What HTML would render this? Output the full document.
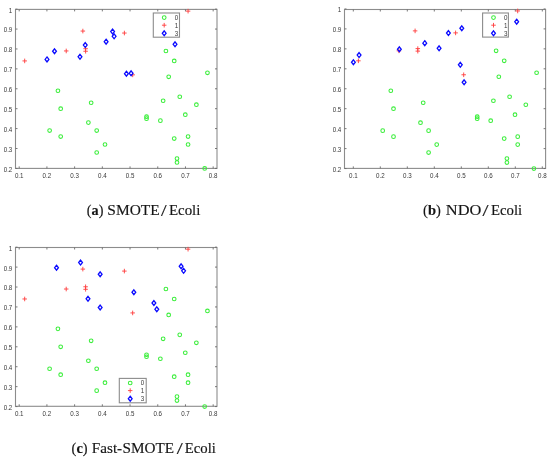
<!DOCTYPE html>
<html><head><meta charset="utf-8"><title>SMOTE / NDO / Fast-SMOTE on Ecoli</title>
<style>
html,body{margin:0;padding:0;background:#fff;}
body{width:550px;height:458px;overflow:hidden;position:relative;}
svg{position:absolute;left:0;top:0;filter:blur(0.3px);}
.tk{font-family:"Liberation Sans",Arial,sans-serif;font-size:6.9px;fill:#383838;}
.cap{font-family:"Liberation Serif","Times New Roman",serif;font-size:14.5px;fill:#151515;stroke:#151515;stroke-width:0.15px;}
</style></head>
<body>
<svg width="550" height="458" viewBox="0 0 550 458">
<rect x="15.50" y="9.40" width="201.50" height="159.00" fill="none" stroke="#8c8c8c" stroke-width="1.1"/>
<path d="M19.20 168.40v-2M19.20 9.40v2M46.91 168.40v-2M46.91 9.40v2M74.62 168.40v-2M74.62 9.40v2M102.33 168.40v-2M102.33 9.40v2M130.04 168.40v-2M130.04 9.40v2M157.75 168.40v-2M157.75 9.40v2M185.46 168.40v-2M185.46 9.40v2M213.17 168.40v-2M213.17 9.40v2M15.50 168.41h2M217.00 168.41h-2M15.50 148.50h2M217.00 148.50h-2M15.50 128.59h2M217.00 128.59h-2M15.50 108.69h2M217.00 108.69h-2M15.50 88.78h2M217.00 88.78h-2M15.50 68.87h2M217.00 68.87h-2M15.50 48.96h2M217.00 48.96h-2M15.50 29.06h2M217.00 29.06h-2M15.50 9.15h2M217.00 9.15h-2" stroke="#6a6a6a" stroke-width="0.9" fill="none"/>
<text transform="translate(19.20 178.00) scale(0.9 1)" text-anchor="middle" class="tk">0.1</text>
<text transform="translate(46.91 178.00) scale(0.9 1)" text-anchor="middle" class="tk">0.2</text>
<text transform="translate(74.62 178.00) scale(0.9 1)" text-anchor="middle" class="tk">0.3</text>
<text transform="translate(102.33 178.00) scale(0.9 1)" text-anchor="middle" class="tk">0.4</text>
<text transform="translate(130.04 178.00) scale(0.9 1)" text-anchor="middle" class="tk">0.5</text>
<text transform="translate(157.75 178.00) scale(0.9 1)" text-anchor="middle" class="tk">0.6</text>
<text transform="translate(185.46 178.00) scale(0.9 1)" text-anchor="middle" class="tk">0.7</text>
<text transform="translate(213.17 178.00) scale(0.9 1)" text-anchor="middle" class="tk">0.8</text>
<text transform="translate(12.30 171.81) scale(0.9 1)" text-anchor="end" class="tk">0.2</text>
<text transform="translate(12.30 151.90) scale(0.9 1)" text-anchor="end" class="tk">0.3</text>
<text transform="translate(12.30 131.99) scale(0.9 1)" text-anchor="end" class="tk">0.4</text>
<text transform="translate(12.30 112.09) scale(0.9 1)" text-anchor="end" class="tk">0.5</text>
<text transform="translate(12.30 92.18) scale(0.9 1)" text-anchor="end" class="tk">0.6</text>
<text transform="translate(12.30 72.27) scale(0.9 1)" text-anchor="end" class="tk">0.7</text>
<text transform="translate(12.30 52.36) scale(0.9 1)" text-anchor="end" class="tk">0.8</text>
<text transform="translate(12.30 32.46) scale(0.9 1)" text-anchor="end" class="tk">0.9</text>
<text transform="translate(12.30 12.55) scale(0.9 1)" text-anchor="end" class="tk">1</text>
<ellipse cx="165.92" cy="50.95" rx="1.85" ry="1.8" fill="none" stroke="#3aee3a" stroke-width="1.05"/>
<ellipse cx="174.22" cy="60.91" rx="1.85" ry="1.8" fill="none" stroke="#3aee3a" stroke-width="1.05"/>
<ellipse cx="207.45" cy="72.85" rx="1.85" ry="1.8" fill="none" stroke="#3aee3a" stroke-width="1.05"/>
<ellipse cx="168.69" cy="76.83" rx="1.85" ry="1.8" fill="none" stroke="#3aee3a" stroke-width="1.05"/>
<ellipse cx="57.93" cy="90.77" rx="1.85" ry="1.8" fill="none" stroke="#3aee3a" stroke-width="1.05"/>
<ellipse cx="91.15" cy="102.71" rx="1.85" ry="1.8" fill="none" stroke="#3aee3a" stroke-width="1.05"/>
<ellipse cx="60.69" cy="108.69" rx="1.85" ry="1.8" fill="none" stroke="#3aee3a" stroke-width="1.05"/>
<ellipse cx="88.38" cy="122.62" rx="1.85" ry="1.8" fill="none" stroke="#3aee3a" stroke-width="1.05"/>
<ellipse cx="49.62" cy="130.58" rx="1.85" ry="1.8" fill="none" stroke="#3aee3a" stroke-width="1.05"/>
<ellipse cx="96.69" cy="130.58" rx="1.85" ry="1.8" fill="none" stroke="#3aee3a" stroke-width="1.05"/>
<ellipse cx="60.69" cy="136.55" rx="1.85" ry="1.8" fill="none" stroke="#3aee3a" stroke-width="1.05"/>
<ellipse cx="105.00" cy="144.52" rx="1.85" ry="1.8" fill="none" stroke="#3aee3a" stroke-width="1.05"/>
<ellipse cx="96.69" cy="152.48" rx="1.85" ry="1.8" fill="none" stroke="#3aee3a" stroke-width="1.05"/>
<ellipse cx="179.76" cy="96.74" rx="1.85" ry="1.8" fill="none" stroke="#3aee3a" stroke-width="1.05"/>
<ellipse cx="163.15" cy="100.72" rx="1.85" ry="1.8" fill="none" stroke="#3aee3a" stroke-width="1.05"/>
<ellipse cx="196.38" cy="104.70" rx="1.85" ry="1.8" fill="none" stroke="#3aee3a" stroke-width="1.05"/>
<ellipse cx="185.30" cy="114.66" rx="1.85" ry="1.8" fill="none" stroke="#3aee3a" stroke-width="1.05"/>
<ellipse cx="146.53" cy="116.65" rx="1.85" ry="1.8" fill="none" stroke="#3aee3a" stroke-width="1.05"/>
<ellipse cx="146.53" cy="118.64" rx="1.85" ry="1.8" fill="none" stroke="#3aee3a" stroke-width="1.05"/>
<ellipse cx="160.38" cy="120.63" rx="1.85" ry="1.8" fill="none" stroke="#3aee3a" stroke-width="1.05"/>
<ellipse cx="188.07" cy="136.55" rx="1.85" ry="1.8" fill="none" stroke="#3aee3a" stroke-width="1.05"/>
<ellipse cx="174.22" cy="138.55" rx="1.85" ry="1.8" fill="none" stroke="#3aee3a" stroke-width="1.05"/>
<ellipse cx="188.07" cy="144.52" rx="1.85" ry="1.8" fill="none" stroke="#3aee3a" stroke-width="1.05"/>
<ellipse cx="176.99" cy="158.45" rx="1.85" ry="1.8" fill="none" stroke="#3aee3a" stroke-width="1.05"/>
<ellipse cx="176.99" cy="162.43" rx="1.85" ry="1.8" fill="none" stroke="#3aee3a" stroke-width="1.05"/>
<ellipse cx="204.68" cy="168.41" rx="1.85" ry="1.8" fill="none" stroke="#3aee3a" stroke-width="1.05"/>
<path d="M22.45 60.91H26.95M24.70 58.61V63.21" stroke="#ff3b3b" stroke-width="0.9" fill="none"/>
<path d="M63.98 50.95H68.48M66.23 48.65V53.25" stroke="#ff3b3b" stroke-width="0.9" fill="none"/>
<path d="M80.60 31.05H85.10M82.85 28.75V33.35" stroke="#ff3b3b" stroke-width="0.9" fill="none"/>
<path d="M83.37 48.71H87.87M85.62 46.41V51.01" stroke="#ff3b3b" stroke-width="0.9" fill="none"/>
<path d="M83.37 51.25H87.87M85.62 48.95V53.55" stroke="#ff3b3b" stroke-width="0.9" fill="none"/>
<path d="M122.13 33.04H126.63M124.38 30.74V35.34" stroke="#ff3b3b" stroke-width="0.9" fill="none"/>
<path d="M130.44 74.84H134.94M132.69 72.54V77.14" stroke="#ff3b3b" stroke-width="0.9" fill="none"/>
<path d="M185.82 11.14H190.32M188.07 8.84V13.44" stroke="#ff3b3b" stroke-width="0.9" fill="none"/>
<path d="M47.00 56.94L48.90 59.39L47.00 61.84L45.10 59.39Z" stroke="#0a0aff" stroke-width="1.3" fill="none"/>
<path d="M54.51 48.79L56.41 51.24L54.51 53.69L52.61 51.24Z" stroke="#0a0aff" stroke-width="1.3" fill="none"/>
<path d="M79.99 54.35L81.89 56.80L79.99 59.25L78.09 56.80Z" stroke="#0a0aff" stroke-width="1.3" fill="none"/>
<path d="M85.24 42.63L87.14 45.08L85.24 47.53L83.34 45.08Z" stroke="#0a0aff" stroke-width="1.3" fill="none"/>
<path d="M106.10 39.25L108.00 41.70L106.10 44.15L104.20 41.70Z" stroke="#0a0aff" stroke-width="1.3" fill="none"/>
<path d="M112.59 29.11L114.49 31.56L112.59 34.01L110.69 31.56Z" stroke="#0a0aff" stroke-width="1.3" fill="none"/>
<path d="M114.11 33.88L116.01 36.33L114.11 38.78L112.21 36.33Z" stroke="#0a0aff" stroke-width="1.3" fill="none"/>
<path d="M126.40 71.24L128.30 73.69L126.40 76.14L124.50 73.69Z" stroke="#0a0aff" stroke-width="1.3" fill="none"/>
<path d="M131.10 70.85L133.00 73.30L131.10 75.75L129.20 73.30Z" stroke="#0a0aff" stroke-width="1.3" fill="none"/>
<path d="M175.03 41.83L176.93 44.28L175.03 46.73L173.13 44.28Z" stroke="#0a0aff" stroke-width="1.3" fill="none"/>
<rect x="153.30" y="13.00" width="26.20" height="24.20" fill="#fff" stroke="#8c8c8c" stroke-width="1.1"/>
<ellipse cx="164.20" cy="17.60" rx="1.85" ry="1.8" fill="none" stroke="#3aee3a" stroke-width="1.05"/>
<path d="M161.95 25.20H166.45M164.20 22.90V27.50" stroke="#ff3b3b" stroke-width="0.9" fill="none"/>
<path d="M164.20 30.85L166.10 33.30L164.20 35.75L162.30 33.30Z" stroke="#0a0aff" stroke-width="1.3" fill="none"/>
<text transform="translate(176.40 20.00) scale(0.9 1)" text-anchor="middle" class="tk">0</text>
<text transform="translate(176.40 27.60) scale(0.9 1)" text-anchor="middle" class="tk">1</text>
<text transform="translate(176.40 35.70) scale(0.9 1)" text-anchor="middle" class="tk">3</text>
<rect x="344.50" y="9.50" width="201.10" height="158.90" fill="none" stroke="#8c8c8c" stroke-width="1.1"/>
<path d="M353.30 168.40v-2M353.30 9.50v2M380.30 168.40v-2M380.30 9.50v2M407.30 168.40v-2M407.30 9.50v2M434.30 168.40v-2M434.30 9.50v2M461.30 168.40v-2M461.30 9.50v2M488.30 168.40v-2M488.30 9.50v2M515.30 168.40v-2M515.30 9.50v2M542.30 168.40v-2M542.30 9.50v2M344.50 168.55h2M545.60 168.55h-2M344.50 148.60h2M545.60 148.60h-2M344.50 128.65h2M545.60 128.65h-2M344.50 108.70h2M545.60 108.70h-2M344.50 88.75h2M545.60 88.75h-2M344.50 68.80h2M545.60 68.80h-2M344.50 48.85h2M545.60 48.85h-2M344.50 28.90h2M545.60 28.90h-2M344.50 8.95h2M545.60 8.95h-2" stroke="#6a6a6a" stroke-width="0.9" fill="none"/>
<text transform="translate(353.30 178.00) scale(0.9 1)" text-anchor="middle" class="tk">0.1</text>
<text transform="translate(380.30 178.00) scale(0.9 1)" text-anchor="middle" class="tk">0.2</text>
<text transform="translate(407.30 178.00) scale(0.9 1)" text-anchor="middle" class="tk">0.3</text>
<text transform="translate(434.30 178.00) scale(0.9 1)" text-anchor="middle" class="tk">0.4</text>
<text transform="translate(461.30 178.00) scale(0.9 1)" text-anchor="middle" class="tk">0.5</text>
<text transform="translate(488.30 178.00) scale(0.9 1)" text-anchor="middle" class="tk">0.6</text>
<text transform="translate(515.30 178.00) scale(0.9 1)" text-anchor="middle" class="tk">0.7</text>
<text transform="translate(542.30 178.00) scale(0.9 1)" text-anchor="middle" class="tk">0.8</text>
<text transform="translate(341.30 171.95) scale(0.9 1)" text-anchor="end" class="tk">0.2</text>
<text transform="translate(341.30 152.00) scale(0.9 1)" text-anchor="end" class="tk">0.3</text>
<text transform="translate(341.30 132.05) scale(0.9 1)" text-anchor="end" class="tk">0.4</text>
<text transform="translate(341.30 112.10) scale(0.9 1)" text-anchor="end" class="tk">0.5</text>
<text transform="translate(341.30 92.15) scale(0.9 1)" text-anchor="end" class="tk">0.6</text>
<text transform="translate(341.30 72.20) scale(0.9 1)" text-anchor="end" class="tk">0.7</text>
<text transform="translate(341.30 52.25) scale(0.9 1)" text-anchor="end" class="tk">0.8</text>
<text transform="translate(341.30 32.30) scale(0.9 1)" text-anchor="end" class="tk">0.9</text>
<text transform="translate(341.30 12.35) scale(0.9 1)" text-anchor="end" class="tk">1</text>
<ellipse cx="496.10" cy="50.84" rx="1.85" ry="1.8" fill="none" stroke="#3aee3a" stroke-width="1.05"/>
<ellipse cx="504.20" cy="60.82" rx="1.85" ry="1.8" fill="none" stroke="#3aee3a" stroke-width="1.05"/>
<ellipse cx="536.60" cy="72.79" rx="1.85" ry="1.8" fill="none" stroke="#3aee3a" stroke-width="1.05"/>
<ellipse cx="498.80" cy="76.78" rx="1.85" ry="1.8" fill="none" stroke="#3aee3a" stroke-width="1.05"/>
<ellipse cx="390.80" cy="90.75" rx="1.85" ry="1.8" fill="none" stroke="#3aee3a" stroke-width="1.05"/>
<ellipse cx="423.20" cy="102.72" rx="1.85" ry="1.8" fill="none" stroke="#3aee3a" stroke-width="1.05"/>
<ellipse cx="393.50" cy="108.70" rx="1.85" ry="1.8" fill="none" stroke="#3aee3a" stroke-width="1.05"/>
<ellipse cx="420.50" cy="122.67" rx="1.85" ry="1.8" fill="none" stroke="#3aee3a" stroke-width="1.05"/>
<ellipse cx="382.70" cy="130.64" rx="1.85" ry="1.8" fill="none" stroke="#3aee3a" stroke-width="1.05"/>
<ellipse cx="428.60" cy="130.64" rx="1.85" ry="1.8" fill="none" stroke="#3aee3a" stroke-width="1.05"/>
<ellipse cx="393.50" cy="136.63" rx="1.85" ry="1.8" fill="none" stroke="#3aee3a" stroke-width="1.05"/>
<ellipse cx="436.70" cy="144.61" rx="1.85" ry="1.8" fill="none" stroke="#3aee3a" stroke-width="1.05"/>
<ellipse cx="428.60" cy="152.59" rx="1.85" ry="1.8" fill="none" stroke="#3aee3a" stroke-width="1.05"/>
<ellipse cx="509.60" cy="96.73" rx="1.85" ry="1.8" fill="none" stroke="#3aee3a" stroke-width="1.05"/>
<ellipse cx="493.40" cy="100.72" rx="1.85" ry="1.8" fill="none" stroke="#3aee3a" stroke-width="1.05"/>
<ellipse cx="525.80" cy="104.71" rx="1.85" ry="1.8" fill="none" stroke="#3aee3a" stroke-width="1.05"/>
<ellipse cx="515.00" cy="114.69" rx="1.85" ry="1.8" fill="none" stroke="#3aee3a" stroke-width="1.05"/>
<ellipse cx="477.20" cy="116.68" rx="1.85" ry="1.8" fill="none" stroke="#3aee3a" stroke-width="1.05"/>
<ellipse cx="477.20" cy="118.68" rx="1.85" ry="1.8" fill="none" stroke="#3aee3a" stroke-width="1.05"/>
<ellipse cx="490.70" cy="120.67" rx="1.85" ry="1.8" fill="none" stroke="#3aee3a" stroke-width="1.05"/>
<ellipse cx="517.70" cy="136.63" rx="1.85" ry="1.8" fill="none" stroke="#3aee3a" stroke-width="1.05"/>
<ellipse cx="504.20" cy="138.62" rx="1.85" ry="1.8" fill="none" stroke="#3aee3a" stroke-width="1.05"/>
<ellipse cx="517.70" cy="144.61" rx="1.85" ry="1.8" fill="none" stroke="#3aee3a" stroke-width="1.05"/>
<ellipse cx="506.90" cy="158.57" rx="1.85" ry="1.8" fill="none" stroke="#3aee3a" stroke-width="1.05"/>
<ellipse cx="506.90" cy="162.56" rx="1.85" ry="1.8" fill="none" stroke="#3aee3a" stroke-width="1.05"/>
<ellipse cx="533.90" cy="168.55" rx="1.85" ry="1.8" fill="none" stroke="#3aee3a" stroke-width="1.05"/>
<path d="M356.15 60.82H360.65M358.40 58.52V63.12" stroke="#ff3b3b" stroke-width="0.9" fill="none"/>
<path d="M396.65 50.84H401.15M398.90 48.55V53.14" stroke="#ff3b3b" stroke-width="0.9" fill="none"/>
<path d="M412.85 30.89H417.35M415.10 28.59V33.19" stroke="#ff3b3b" stroke-width="0.9" fill="none"/>
<path d="M415.55 48.60H420.05M417.80 46.30V50.90" stroke="#ff3b3b" stroke-width="0.9" fill="none"/>
<path d="M415.55 51.14H420.05M417.80 48.84V53.44" stroke="#ff3b3b" stroke-width="0.9" fill="none"/>
<path d="M453.35 32.89H457.85M455.60 30.59V35.19" stroke="#ff3b3b" stroke-width="0.9" fill="none"/>
<path d="M461.45 74.78H465.95M463.70 72.48V77.08" stroke="#ff3b3b" stroke-width="0.9" fill="none"/>
<path d="M515.45 10.95H519.95M517.70 8.64V13.25" stroke="#ff3b3b" stroke-width="0.9" fill="none"/>
<path d="M353.40 59.78L355.30 62.23L353.40 64.68L351.50 62.23Z" stroke="#0a0aff" stroke-width="1.3" fill="none"/>
<path d="M359.08 52.63L360.98 55.08L359.08 57.53L357.18 55.08Z" stroke="#0a0aff" stroke-width="1.3" fill="none"/>
<path d="M399.35 46.87L401.25 49.32L399.35 51.77L397.45 49.32Z" stroke="#0a0aff" stroke-width="1.3" fill="none"/>
<path d="M424.76 40.71L426.66 43.16L424.76 45.61L422.86 43.16Z" stroke="#0a0aff" stroke-width="1.3" fill="none"/>
<path d="M439.09 45.87L440.99 48.32L439.09 50.77L437.19 48.32Z" stroke="#0a0aff" stroke-width="1.3" fill="none"/>
<path d="M448.41 30.58L450.31 33.03L448.41 35.48L446.51 33.03Z" stroke="#0a0aff" stroke-width="1.3" fill="none"/>
<path d="M461.79 25.82L463.69 28.27L461.79 30.72L459.89 28.27Z" stroke="#0a0aff" stroke-width="1.3" fill="none"/>
<path d="M516.66 19.26L518.56 21.71L516.66 24.16L514.76 21.71Z" stroke="#0a0aff" stroke-width="1.3" fill="none"/>
<path d="M460.30 62.36L462.20 64.81L460.30 67.26L458.40 64.81Z" stroke="#0a0aff" stroke-width="1.3" fill="none"/>
<path d="M464.09 79.83L465.99 82.28L464.09 84.73L462.19 82.28Z" stroke="#0a0aff" stroke-width="1.3" fill="none"/>
<rect x="482.60" y="13.00" width="25.80" height="24.10" fill="#fff" stroke="#8c8c8c" stroke-width="1.1"/>
<ellipse cx="493.50" cy="17.60" rx="1.85" ry="1.8" fill="none" stroke="#3aee3a" stroke-width="1.05"/>
<path d="M491.25 25.20H495.75M493.50 22.90V27.50" stroke="#ff3b3b" stroke-width="0.9" fill="none"/>
<path d="M493.50 30.85L495.40 33.30L493.50 35.75L491.60 33.30Z" stroke="#0a0aff" stroke-width="1.3" fill="none"/>
<text transform="translate(505.70 20.00) scale(0.9 1)" text-anchor="middle" class="tk">0</text>
<text transform="translate(505.70 27.60) scale(0.9 1)" text-anchor="middle" class="tk">1</text>
<text transform="translate(505.70 35.70) scale(0.9 1)" text-anchor="middle" class="tk">3</text>
<rect x="15.50" y="247.50" width="201.50" height="158.80" fill="none" stroke="#8c8c8c" stroke-width="1.1"/>
<path d="M19.20 406.30v-2M19.20 247.50v2M46.91 406.30v-2M46.91 247.50v2M74.62 406.30v-2M74.62 247.50v2M102.33 406.30v-2M102.33 247.50v2M130.04 406.30v-2M130.04 247.50v2M157.75 406.30v-2M157.75 247.50v2M185.46 406.30v-2M185.46 247.50v2M213.17 406.30v-2M213.17 247.50v2M15.50 406.57h2M217.00 406.57h-2M15.50 386.65h2M217.00 386.65h-2M15.50 366.72h2M217.00 366.72h-2M15.50 346.80h2M217.00 346.80h-2M15.50 326.88h2M217.00 326.88h-2M15.50 306.95h2M217.00 306.95h-2M15.50 287.03h2M217.00 287.03h-2M15.50 267.10h2M217.00 267.10h-2M15.50 247.18h2M217.00 247.18h-2" stroke="#6a6a6a" stroke-width="0.9" fill="none"/>
<text transform="translate(19.20 415.90) scale(0.9 1)" text-anchor="middle" class="tk">0.1</text>
<text transform="translate(46.91 415.90) scale(0.9 1)" text-anchor="middle" class="tk">0.2</text>
<text transform="translate(74.62 415.90) scale(0.9 1)" text-anchor="middle" class="tk">0.3</text>
<text transform="translate(102.33 415.90) scale(0.9 1)" text-anchor="middle" class="tk">0.4</text>
<text transform="translate(130.04 415.90) scale(0.9 1)" text-anchor="middle" class="tk">0.5</text>
<text transform="translate(157.75 415.90) scale(0.9 1)" text-anchor="middle" class="tk">0.6</text>
<text transform="translate(185.46 415.90) scale(0.9 1)" text-anchor="middle" class="tk">0.7</text>
<text transform="translate(213.17 415.90) scale(0.9 1)" text-anchor="middle" class="tk">0.8</text>
<text transform="translate(12.30 409.97) scale(0.9 1)" text-anchor="end" class="tk">0.2</text>
<text transform="translate(12.30 390.05) scale(0.9 1)" text-anchor="end" class="tk">0.3</text>
<text transform="translate(12.30 370.12) scale(0.9 1)" text-anchor="end" class="tk">0.4</text>
<text transform="translate(12.30 350.20) scale(0.9 1)" text-anchor="end" class="tk">0.5</text>
<text transform="translate(12.30 330.28) scale(0.9 1)" text-anchor="end" class="tk">0.6</text>
<text transform="translate(12.30 310.35) scale(0.9 1)" text-anchor="end" class="tk">0.7</text>
<text transform="translate(12.30 290.43) scale(0.9 1)" text-anchor="end" class="tk">0.8</text>
<text transform="translate(12.30 270.50) scale(0.9 1)" text-anchor="end" class="tk">0.9</text>
<text transform="translate(12.30 250.58) scale(0.9 1)" text-anchor="end" class="tk">1</text>
<ellipse cx="165.90" cy="289.02" rx="1.85" ry="1.8" fill="none" stroke="#3aee3a" stroke-width="1.05"/>
<ellipse cx="174.20" cy="298.98" rx="1.85" ry="1.8" fill="none" stroke="#3aee3a" stroke-width="1.05"/>
<ellipse cx="207.43" cy="310.94" rx="1.85" ry="1.8" fill="none" stroke="#3aee3a" stroke-width="1.05"/>
<ellipse cx="168.67" cy="314.92" rx="1.85" ry="1.8" fill="none" stroke="#3aee3a" stroke-width="1.05"/>
<ellipse cx="57.91" cy="328.87" rx="1.85" ry="1.8" fill="none" stroke="#3aee3a" stroke-width="1.05"/>
<ellipse cx="91.13" cy="340.82" rx="1.85" ry="1.8" fill="none" stroke="#3aee3a" stroke-width="1.05"/>
<ellipse cx="60.67" cy="346.80" rx="1.85" ry="1.8" fill="none" stroke="#3aee3a" stroke-width="1.05"/>
<ellipse cx="88.36" cy="360.75" rx="1.85" ry="1.8" fill="none" stroke="#3aee3a" stroke-width="1.05"/>
<ellipse cx="49.60" cy="368.72" rx="1.85" ry="1.8" fill="none" stroke="#3aee3a" stroke-width="1.05"/>
<ellipse cx="96.67" cy="368.72" rx="1.85" ry="1.8" fill="none" stroke="#3aee3a" stroke-width="1.05"/>
<ellipse cx="60.67" cy="374.69" rx="1.85" ry="1.8" fill="none" stroke="#3aee3a" stroke-width="1.05"/>
<ellipse cx="104.98" cy="382.66" rx="1.85" ry="1.8" fill="none" stroke="#3aee3a" stroke-width="1.05"/>
<ellipse cx="96.67" cy="390.63" rx="1.85" ry="1.8" fill="none" stroke="#3aee3a" stroke-width="1.05"/>
<ellipse cx="179.74" cy="334.85" rx="1.85" ry="1.8" fill="none" stroke="#3aee3a" stroke-width="1.05"/>
<ellipse cx="163.13" cy="338.83" rx="1.85" ry="1.8" fill="none" stroke="#3aee3a" stroke-width="1.05"/>
<ellipse cx="196.36" cy="342.82" rx="1.85" ry="1.8" fill="none" stroke="#3aee3a" stroke-width="1.05"/>
<ellipse cx="185.28" cy="352.78" rx="1.85" ry="1.8" fill="none" stroke="#3aee3a" stroke-width="1.05"/>
<ellipse cx="146.51" cy="354.77" rx="1.85" ry="1.8" fill="none" stroke="#3aee3a" stroke-width="1.05"/>
<ellipse cx="146.51" cy="356.76" rx="1.85" ry="1.8" fill="none" stroke="#3aee3a" stroke-width="1.05"/>
<ellipse cx="160.36" cy="358.75" rx="1.85" ry="1.8" fill="none" stroke="#3aee3a" stroke-width="1.05"/>
<ellipse cx="188.05" cy="374.69" rx="1.85" ry="1.8" fill="none" stroke="#3aee3a" stroke-width="1.05"/>
<ellipse cx="174.20" cy="376.69" rx="1.85" ry="1.8" fill="none" stroke="#3aee3a" stroke-width="1.05"/>
<ellipse cx="188.05" cy="382.66" rx="1.85" ry="1.8" fill="none" stroke="#3aee3a" stroke-width="1.05"/>
<ellipse cx="176.97" cy="396.61" rx="1.85" ry="1.8" fill="none" stroke="#3aee3a" stroke-width="1.05"/>
<ellipse cx="176.97" cy="400.59" rx="1.85" ry="1.8" fill="none" stroke="#3aee3a" stroke-width="1.05"/>
<ellipse cx="204.66" cy="406.57" rx="1.85" ry="1.8" fill="none" stroke="#3aee3a" stroke-width="1.05"/>
<path d="M22.43 298.98H26.93M24.68 296.68V301.28" stroke="#ff3b3b" stroke-width="0.9" fill="none"/>
<path d="M63.96 289.02H68.46M66.21 286.72V291.32" stroke="#ff3b3b" stroke-width="0.9" fill="none"/>
<path d="M80.58 269.10H85.08M82.83 266.80V271.40" stroke="#ff3b3b" stroke-width="0.9" fill="none"/>
<path d="M83.35 286.78H87.85M85.60 284.48V289.08" stroke="#ff3b3b" stroke-width="0.9" fill="none"/>
<path d="M83.35 289.32H87.85M85.60 287.02V291.62" stroke="#ff3b3b" stroke-width="0.9" fill="none"/>
<path d="M122.11 271.09H126.61M124.36 268.79V273.39" stroke="#ff3b3b" stroke-width="0.9" fill="none"/>
<path d="M130.42 312.93H134.92M132.67 310.63V315.23" stroke="#ff3b3b" stroke-width="0.9" fill="none"/>
<path d="M185.80 249.17H190.30M188.05 246.87V251.47" stroke="#ff3b3b" stroke-width="0.9" fill="none"/>
<path d="M56.50 265.25L58.40 267.70L56.50 270.15L54.60 267.70Z" stroke="#0a0aff" stroke-width="1.3" fill="none"/>
<path d="M80.54 260.10L82.44 262.55L80.54 265.00L78.64 262.55Z" stroke="#0a0aff" stroke-width="1.3" fill="none"/>
<path d="M100.16 271.78L102.06 274.23L100.16 276.68L98.26 274.23Z" stroke="#0a0aff" stroke-width="1.3" fill="none"/>
<path d="M88.00 296.33L89.90 298.78L88.00 301.23L86.10 298.78Z" stroke="#0a0aff" stroke-width="1.3" fill="none"/>
<path d="M100.16 305.04L102.06 307.49L100.16 309.94L98.26 307.49Z" stroke="#0a0aff" stroke-width="1.3" fill="none"/>
<path d="M133.86 289.80L135.76 292.25L133.86 294.70L131.96 292.25Z" stroke="#0a0aff" stroke-width="1.3" fill="none"/>
<path d="M153.90 300.57L155.80 303.02L153.90 305.47L152.00 303.02Z" stroke="#0a0aff" stroke-width="1.3" fill="none"/>
<path d="M156.80 306.83L158.70 309.28L156.80 311.73L154.90 309.28Z" stroke="#0a0aff" stroke-width="1.3" fill="none"/>
<path d="M181.11 263.86L183.01 266.31L181.11 268.76L179.21 266.31Z" stroke="#0a0aff" stroke-width="1.3" fill="none"/>
<path d="M183.60 268.41L185.50 270.86L183.60 273.31L181.70 270.86Z" stroke="#0a0aff" stroke-width="1.3" fill="none"/>
<rect x="119.30" y="378.40" width="26.90" height="24.40" fill="#fff" stroke="#8c8c8c" stroke-width="1.1"/>
<ellipse cx="130.20" cy="383.00" rx="1.85" ry="1.8" fill="none" stroke="#3aee3a" stroke-width="1.05"/>
<path d="M127.95 390.60H132.45M130.20 388.30V392.90" stroke="#ff3b3b" stroke-width="0.9" fill="none"/>
<path d="M130.20 396.25L132.10 398.70L130.20 401.15L128.30 398.70Z" stroke="#0a0aff" stroke-width="1.3" fill="none"/>
<text transform="translate(142.40 385.40) scale(0.9 1)" text-anchor="middle" class="tk">0</text>
<text transform="translate(142.40 393.00) scale(0.9 1)" text-anchor="middle" class="tk">1</text>
<text transform="translate(142.40 401.10) scale(0.9 1)" text-anchor="middle" class="tk">3</text>
<text class="cap" id="sa0" x="86.85" y="214.80" textLength="16.55" lengthAdjust="spacingAndGlyphs">(<tspan font-weight="bold">a</tspan>)</text>
<text class="cap" id="sa1" x="107.35" y="214.80" textLength="52.30" lengthAdjust="spacingAndGlyphs">SMOTE</text>
<text class="cap" id="sa2" x="161.10" y="216.10" textLength="5.65" lengthAdjust="spacingAndGlyphs" style="font-size:17.4px">/</text>
<text class="cap" id="sa3" x="168.90" y="214.80" textLength="31.50" lengthAdjust="spacingAndGlyphs">Ecoli</text>
<text class="cap" id="sb0" x="423.10" y="214.80" textLength="17.80" lengthAdjust="spacingAndGlyphs">(<tspan font-weight="bold">b</tspan>)</text>
<text class="cap" id="sb1" x="445.85" y="214.80" textLength="35.55" lengthAdjust="spacingAndGlyphs">NDO</text>
<text class="cap" id="sb2" x="482.55" y="216.10" textLength="6.05" lengthAdjust="spacingAndGlyphs" style="font-size:17.4px">/</text>
<text class="cap" id="sb3" x="490.95" y="214.80" textLength="31.20" lengthAdjust="spacingAndGlyphs">Ecoli</text>
<text class="cap" id="sc0" x="71.60" y="452.60" textLength="16.05" lengthAdjust="spacingAndGlyphs">(<tspan font-weight="bold">c</tspan>)</text>
<text class="cap" id="sc1" x="91.85" y="452.60" textLength="30.30" lengthAdjust="spacingAndGlyphs">Fast-</text>
<text class="cap" id="sc2" x="122.60" y="452.60" textLength="51.55" lengthAdjust="spacingAndGlyphs">SMOTE</text>
<text class="cap" id="sc3" x="176.70" y="453.90" textLength="6.05" lengthAdjust="spacingAndGlyphs" style="font-size:17.4px">/</text>
<text class="cap" id="sc4" x="184.80" y="452.60" textLength="31.10" lengthAdjust="spacingAndGlyphs">Ecoli</text>
</svg>
</body></html>
